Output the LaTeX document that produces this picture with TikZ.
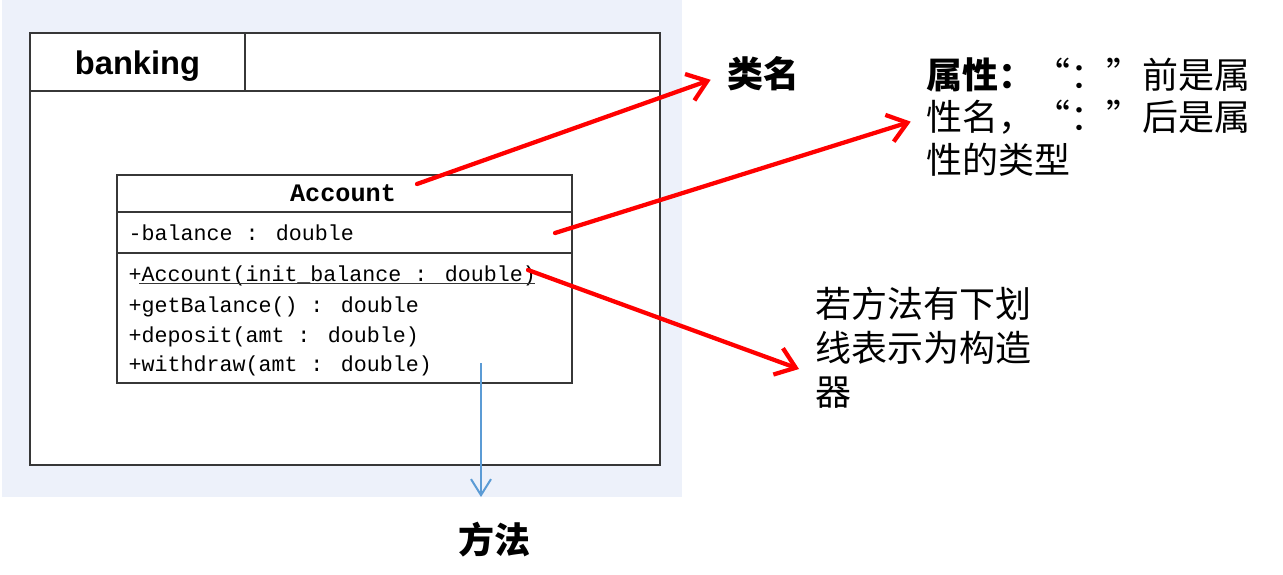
\documentclass[tikz,border=0pt]{standalone}
\usepackage{fontspec}
\setmainfont{Liberation Sans}
\newfontfamily\monofont{Liberation Mono}
\newfontfamily\cjk[RawFeature=+fwid]{Noto Sans CJK SC}
\usetikzlibrary{arrows.meta}

\definecolor{pkgbg}{RGB}{237,241,250}
\definecolor{boxline}{RGB}{55,55,55}
\definecolor{callred}{RGB}{255,0,0}
\definecolor{callblue}{RGB}{91,155,213}

\tikzset{every picture/.style={line width=0.75pt}}
\tikzset{
  umlline/.style={draw=boxline, line width=1.4pt},
  redcall/.style={draw=callred, line width=3.2pt, line cap=round, -{Straight Barb[length=14pt,width=21pt,line width=3.2pt]}},
  bluecall/.style={draw=callblue, line width=1.5pt, -{Straight Barb[length=12pt,width=15pt]}},
  cjknote/.style={inner sep=0pt, align=left, font=\cjk\fontsize{27}{32}\selectfont},
  member/.style={inner sep=0pt, anchor=base west, font=\monofont\fontsize{16.25}{18}\selectfont}
}

\begin{document}
\begin{tikzpicture}[x=0.75pt,y=0.75pt,yscale=-1,xscale=1]
	\path[use as bounding box] (0,0) rectangle (1283,575);

	%Shape: Rectangle (background)
	\fill[pkgbg] (2,0) rectangle (682,497);
	%Shape: Rectangle (package)
	\draw[umlline, fill=white] (30,33) rectangle (660,465);
	%Straight Lines
	\draw[umlline] (30,91) -- (660,91);
	\draw[umlline] (245,33) -- (245,91);
	% Text Node
	\draw (137.5,74) node[anchor=base, inner sep=0pt, font=\bfseries\fontsize{24.5}{28}\selectfont] (pkgname) {banking};

	%Shape: Rectangle (class)
	\draw[umlline, fill=white] (117,175) rectangle (572,383);
	%Straight Lines
	\draw[umlline] (117,212) -- (572,212);
	\draw[umlline] (117,253) -- (572,253);

	% Text Node
	\draw (343,201) node[anchor=base, inner sep=0pt, font=\monofont\bfseries\fontsize{18.9}{22}\selectfont] (clsname) {Account};
	% Text Node
	\draw (128,240) node[member] (attr) {-balance : double};
	% Text Node
	\draw (128,281) node[member] (ctor) {+Account(init\_balance : double)};
	\draw[boxline, line width=0.9pt] (139,283.5) -- (535,283.5);
	% Text Node
	\draw (128,312) node[member] (getb) {+getBalance() : double};
	% Text Node
	\draw (128,342) node[member] (depo) {+deposit(amt : double)};
	% Text Node
	\draw (128,371) node[member] (withd) {+withdraw(amt : double)};

	% Text Node
	\draw (727,74) node[cjknote, anchor=west] (lblname) {\bfseries 类名};
	% Text Node
	\draw (926,57) node[cjknote, anchor=north west, font=\cjk\fontsize{27}{31.9}\selectfont] (lblattr) {{\bfseries 属性：}“：”前是属\\性名，“：”后是属\\性的类型};
	% Text Node
	\draw (815,287) node[cjknote, anchor=north west, font=\cjk\fontsize{27}{33}\selectfont] (lblctor) {若方法有下划\\线表示为构造\\器};
	% Text Node
	\draw (494,540) node[cjknote] (lblmeth) {\bfseries 方法};

	%Straight Lines (callouts)
	\coordinate (onname) at (417,184);
	\coordinate (onattr) at (555,233);
	\coordinate (onctor) at (528,270);
	\coordinate (onmeth) at (481,363);
	\draw[redcall, shorten >=13pt] (onname) -- (lblname.west);
	\draw[redcall, shorten >=12pt] (onattr) -- (lblattr.west);
	\draw[redcall, shorten >=12.75pt] (onctor) -- ([yshift=20pt]lblctor.west);
	\draw[bluecall, shorten >=18.75pt] (onmeth) -- (onmeth |- lblmeth.north);

\end{tikzpicture}
\end{document}
